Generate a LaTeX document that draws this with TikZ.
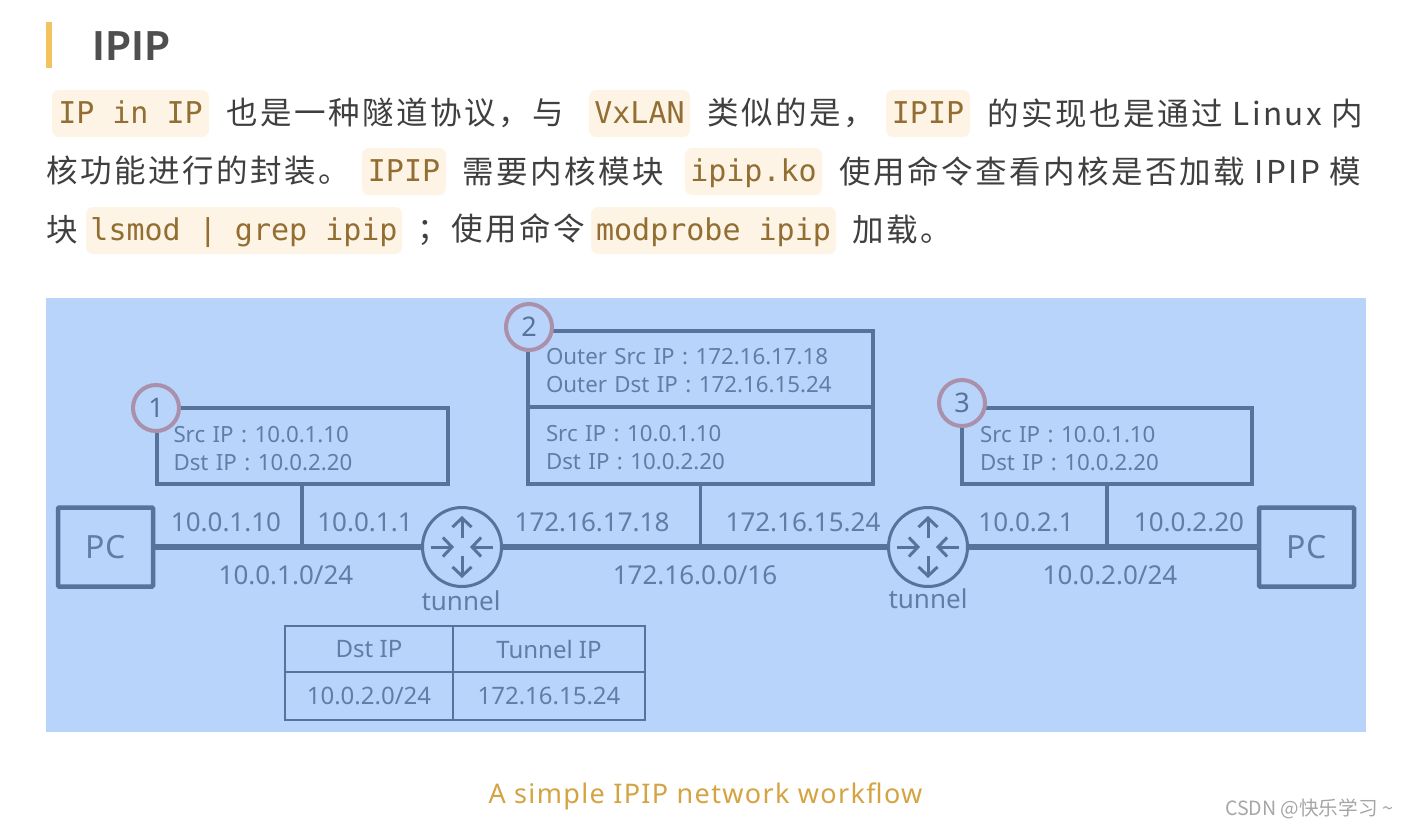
\documentclass[tikz,border=0pt]{standalone}
\usepackage{fontspec}
\usetikzlibrary{arrows.meta}
\newfontfamily\bodyfont[LetterSpace=8]{Noto Sans CJK SC}
\newfontfamily\titlefont{Noto Sans CJK SC Bold}
\newfontfamily\codefont{DejaVu Sans Mono}
\newfontfamily\figfont{Noto Sans}
\newfontfamily\capfont[LetterSpace=5]{Noto Sans}
\newfontfamily\markfont{Noto Sans CJK SC}
\definecolor{accent}{HTML}{F2C35F}
\definecolor{bodytext}{HTML}{3F3F3F}
\definecolor{chipfill}{HTML}{FDF4E6}
\definecolor{chiptext}{HTML}{936E33}
\definecolor{figback}{HTML}{B8D4FA}
\definecolor{figline}{HTML}{56739B}
\definecolor{figtext}{HTML}{5F7EA6}
\definecolor{figring}{HTML}{AA90AB}
\definecolor{captext}{HTML}{D4A342}
\newcommand{\hdrlines}[3]{\rule{0pt}{#1pt}#2\\#3}
\tikzset{
  para/.style={anchor=west, inner sep=0pt, text=bodytext, font=\bodyfont\fontsize{31.5}{31.5}\selectfont},
  chip/.style={fill=chipfill, rounded corners=7pt, inner sep=0pt, minimum height=47pt, text height=27pt, text depth=7pt, text=chiptext, font=\codefont\fontsize{30}{30}\selectfont},
  pcbox/.style={draw=figline, line width=4.5pt, rounded corners=1pt, inner sep=0pt, minimum width=95pt, minimum height=79pt, text height=22pt, text depth=0pt, text=figtext, font=\figfont\fontsize{32}{32}\selectfont},
  infobox/.style={draw=figline, line width=4pt, inner xsep=0pt, inner ysep=0pt, align=left, text=figtext, font=\figfont\fontsize{22.3}{28}\selectfont},
  ring/.style={circle, draw=figring, line width=4pt, fill=figback, inner sep=0pt, minimum size=46pt, text=figline, font=\figfont\fontsize{27}{27}\selectfont},
  router/.style={circle, draw=figline, line width=3pt, inner sep=0pt, minimum size=79pt},
  spoke/.style={draw=figline, line width=3pt, -{Straight Barb[length=9pt,width=19pt]}},
  wire/.style={draw=figline, line width=5.5pt},
  stem/.style={draw=figline, line width=3.5pt},
  figlabel/.style={inner sep=0pt, text=figtext, font=\figfont\fontsize{26}{26}\selectfont},
  cell/.style={draw=figline, line width=2.5pt, inner sep=0pt, text=figtext, font=\figfont\fontsize{24}{24}\selectfont},
}
\begin{document}
\begin{tikzpicture}[x=1pt,y=-1pt]
    \useasboundingbox (0,0) rectangle (1408,828);

    % Heading
    \fill[accent] (46,22) rectangle (52,68);
    \node (title) at (92.5,46) [anchor=west, inner sep=0pt, text=black!69, font=\titlefont\fontsize{39}{39}\selectfont] {IPIP};

    % First line of the paragraph
    \node[chip, minimum width=157pt] (chipA) at (130.5,113.5) {IP in IP};
    \node[para] (textA) at (226,113) {也是一种隧道协议，与};
    \node[chip, minimum width=101pt] (chipB) at (639.5,113.5) {VxLAN};
    \node[para] (textB) at (707,113) {类似的是，};
    \node[chip, minimum width=84pt] (chipC) at (928,113.5) {IPIP};
    \node[para] (textC) at (987,113) {的实现也是通过 Linux 内};

    % Second line
    \node[para] (textD) at (46,171) {核功能进行的封装。};
    \node[chip, minimum width=84pt] (chipD) at (404,171.5) {IPIP};
    \node[para] (textE) at (462,171) {需要内核模块};
    \node[chip, minimum width=137pt] (chipE) at (753.5,171.5) {ipip.ko};
    \node[para] (textF) at (839,171) {使用命令查看内核是否加载 IPIP 模};

    % Third line
    \node[para] (textG) at (46,230) {块};
    \node[chip, minimum width=316pt] (chipF) at (244,230.5) {lsmod | grep ipip};
    \node[para] (textH) at (417,230) {；使用命令};
    \node[chip, minimum width=245pt] (chipG) at (713.5,230.5) {modprobe ipip};
    \node[para] (textI) at (852,230) {加载。};

    % Figure background
    \fill[figback] (46,298) rectangle (1366,732);

    % Hosts and routers on the wire
    \node[pcbox] (pcA) at (105.5,547) {PC};
    \node[pcbox] (pcB) at (1306.5,547) {PC};
    \node[router] (routerA) at (462,547) {};
    \node[router] (routerB) at (928,547) {};
    \draw[wire] (pcA) -- (routerA);
    \draw[wire] (routerA) -- (routerB);
    \draw[wire] (routerB) -- (pcB);

    % Arrows inside each router
    \foreach \rname in {routerA,routerB} {
        \draw[spoke] ([xshift=-31pt]\rname.center) -- ([xshift=-8pt]\rname.center);
        \draw[spoke] ([xshift=31pt]\rname.center) -- ([xshift=8pt]\rname.center);
        \draw[spoke] ([yshift=9pt]\rname.center) -- ([yshift=31pt]\rname.center);
        \draw[spoke] ([yshift=-9pt]\rname.center) -- ([yshift=-31pt]\rname.center);
    }

    % Packet headers
    \node[infobox, minimum width=291pt, minimum height=76pt, text width=257pt] (boxA) at (302,446) {\hdrlines{21}{Src IP : 10.0.1.10}{Dst IP : 10.0.2.20}};
    \node[infobox, minimum width=345pt, minimum height=77pt, text width=309pt] (boxB) at (700.5,445.5) {\hdrlines{21}{Src IP : 10.0.1.10}{Dst IP : 10.0.2.20}};
    \node[infobox, minimum width=345pt, minimum height=76pt, text width=309pt] (boxBouter) at (700.5,369) {\hdrlines{19}{Outer Src IP : 172.16.17.18}{Outer Dst IP : 172.16.15.24}};
    \node[infobox, minimum width=290pt, minimum height=76pt, text width=254pt] (boxC) at (1107,446) {\hdrlines{21}{Src IP : 10.0.1.10}{Dst IP : 10.0.2.20}};

    % Stems down to the wire
    \draw[stem] (boxA.south) -- (boxA.south |- pcA.center);
    \draw[stem] (boxB.south) -- (boxB.south |- pcA.center);
    \draw[stem] (boxC.south) -- (boxC.south |- pcA.center);

    % Step numbers
    \node[ring] (ringA) at (156,408) {1};
    \node[ring] (ringB) at (529,327) {2};
    \node[ring] (ringC) at (962,403) {3};

    % Addresses
    \node[figlabel] (addrA) at (226,522) {10.0.1.10};
    \node[figlabel] (addrB) at (365,522) {10.0.1.1};
    \node[figlabel] (addrC) at (592,522) {172.16.17.18};
    \node[figlabel] (addrD) at (803,522) {172.16.15.24};
    \node[figlabel] (addrE) at (1026,522) {10.0.2.1};
    \node[figlabel] (addrF) at (1189,522) {10.0.2.20};
    \node[figlabel] (netA) at (286,575) {10.0.1.0/24};
    \node[figlabel] (netB) at (695,575) {172.16.0.0/16};
    \node[figlabel] (netC) at (1110,575) {10.0.2.0/24};
    \node[figlabel] (tunnelA) at (461,601) {tunnel};
    \node[figlabel] (tunnelB) at (928,599) {tunnel};

    % Tunnel table
    \node[cell, minimum width=168pt, minimum height=46pt] (cellA) at (369,649) {Dst IP};
    \node[cell, minimum width=192pt, minimum height=46pt] (cellB) at (549,649) {Tunnel IP};
    \node[cell, minimum width=168pt, minimum height=48pt] (cellC) at (369,696) {10.0.2.0/24};
    \node[cell, minimum width=192pt, minimum height=48pt] (cellD) at (549,696) {172.16.15.24};

    % Caption and mark
    \node (caption) at (705.5,796) [inner sep=0pt, text=captext, font=\capfont\fontsize{27}{27}\selectfont] {A simple IPIP network workflow};
    \node (mark) at (1309,809) [inner sep=0pt, text=black!35, font=\markfont\fontsize{19.6}{19.6}\selectfont] {CSDN @快乐学习 \textasciitilde};
\end{tikzpicture}
\end{document}
